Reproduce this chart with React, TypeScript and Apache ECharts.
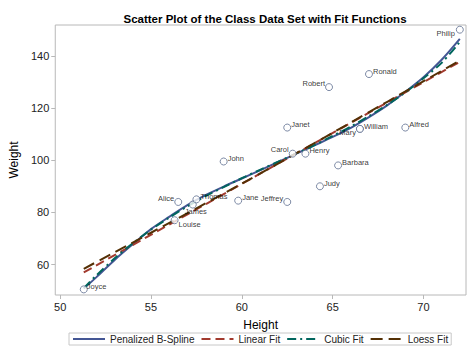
import React, { useEffect, useRef } from "react";
import * as echarts from "echarts";

const names = ["Alfred","Alice","Barbara","Carol","Henry","James","Jane","Janet","Jeffrey","John","Joyce","Judy","Louise","Mary","Philip","Robert","Ronald","Thomas","William"];
const heights = [69.0,56.5,65.3,62.8,63.5,57.3,59.8,62.5,62.5,59.0,51.3,64.3,56.3,66.5,72.0,64.8,67.0,57.5,66.5];
const weights = [112.5,84.0,98.0,102.5,102.5,83.0,84.5,112.5,84.0,99.5,50.5,90.0,77.0,112.0,150.0,128.0,133.0,85.0,112.0];

const fitX = [51.3,52,53,54,55,56,57,58,59,60,61,62,63,64,65,66,67,68,69,70,71,72];
const splineY = [50.8,55.2,61.8,67.8,73.6,78.3,82.8,86.6,89.9,93.0,96.1,99.3,102.5,105.7,108.9,112.4,116.5,121.0,126.2,131.8,138.5,146.5];
const cubicY = [51.0,55.9,62.4,68.2,73.4,78.0,82.3,86.2,89.7,93.1,96.3,99.4,102.6,105.8,109.3,112.9,116.9,121.2,126.0,131.4,137.3,145.3];
const linearX = [51.3,72];
const linearY = [57.0,137.7];
const loessX = [51.3,55,60,65,72];
const loessY = [58.4,72.2,91.0,110.5,138.2];

const xTicks = [50,55,60,65,70];
const yTicks = [60,80,100,120,140];
const legendNames = ["Penalized B-Spline", "Linear Fit", "Cubic Fit", "Loess Fit"];

const labelPlace: Record<string, any> = {
  Philip: { position: "left", offset: [1, 4] },
  Ronald: { position: "right", offset: [-2, -3] },
  Robert: { position: "left", offset: [2, -4] },
  Janet: { position: "right", offset: [-2, -3] },
  Carol: { position: "left", offset: [2, -4] },
  Henry: { position: "right", offset: [-2, -3] },
  Mary: { position: "left", offset: [2, 4] },
  William: { position: "right", offset: [-2, -2] },
  Alfred: { position: "right", offset: [-2, -3] },
  Barbara: { position: "right", offset: [-2, -3] },
  Judy: { position: "right", offset: [-2, -3] },
  Jeffrey: { position: "left", offset: [2, -3] },
  Jane: { position: "right", offset: [-2, -3] },
  John: { position: "right", offset: [-2, -3] },
  Alice: { position: "left", offset: [2, -3] },
  Thomas: { position: "right", offset: [-2, -3] },
  James: { position: "bottom", offset: [3, -3] },
  Louise: { position: "right", offset: [-2, 4] },
  Joyce: { position: "right", offset: [-3, -3] },
};

const FONT = "'Liberation Sans', Arial, Helvetica, sans-serif";

export default function App() {
  const ref = useRef<HTMLDivElement>(null);
  useEffect(() => {
    if (!ref.current) return;
    const chart = echarts.init(ref.current, null, { renderer: "svg" });
    const pts = names.map((n, i) => ({
      value: [heights[i], weights[i]],
      name: n,
      label: { show: true, formatter: n, ...labelPlace[n] },
    }));
    const zip = (xs: number[], ys: number[]) => xs.map((x, i) => [x, ys[i]]);
    chart.setOption({
      animation: false,
      textStyle: { fontFamily: FONT },
      title: {
        text: "Scatter Plot of the Class Data Set with Fit Functions",
        left: 260,
        textAlign: "center",
        top: 8,
        textStyle: { fontSize: 11.5, fontWeight: "bold", color: "#000", fontFamily: FONT },
      },
      grid: {
        left: 54, top: 25, right: 8, bottom: 60,
        show: true, borderColor: "#b8b8b8", borderWidth: 1,
      },
      legend: {
        data: legendNames,
        left: 69,
        top: 333,
        borderColor: "#c8c8c8",
        borderWidth: 1,
        borderRadius: 0,
        padding: [1, 3],
        itemGap: 6,
        itemWidth: 32,
        itemHeight: 12,
        itemStyle: { opacity: 0 },
        textStyle: { fontSize: 10, color: "#222", fontFamily: FONT },
      },
      xAxis: {
        type: "value",
        min: 49.73,
        max: 72.34,
        name: "Height",
        nameLocation: "middle",
        nameGap: 24,
        nameTextStyle: { fontSize: 12, color: "#000", fontFamily: FONT },
        splitLine: { show: false },
        axisLine: { show: false },
        axisTick: { show: true, length: 4, lineStyle: { color: "#b8b8b8" }, customValues: xTicks },
        axisLabel: { fontSize: 11, color: "#222", margin: 6, customValues: xTicks, fontFamily: FONT },
      },
      yAxis: {
        type: "value",
        min: 48.35,
        max: 151.8,
        name: "Weight",
        nameLocation: "middle",
        nameGap: 33,
        nameTextStyle: { fontSize: 12, color: "#000", fontFamily: FONT },
        splitLine: { show: false },
        axisLine: { show: false },
        axisTick: { show: true, length: 4, lineStyle: { color: "#b8b8b8" }, customValues: yTicks },
        axisLabel: { fontSize: 11, color: "#222", margin: 6, customValues: yTicks, fontFamily: FONT },
      },
      series: [
        {
          name: "Data",
          type: "scatter",
          symbol: "circle",
          symbolSize: 7,
          itemStyle: { color: "#fff", borderColor: "#5d6d8e", borderWidth: 1 },
          label: { fontSize: 7.5, color: "#000", fontFamily: FONT, distance: 2 },
          data: pts,
          z: 5,
        },
        {
          name: "Penalized B-Spline",
          type: "line",
          data: zip(fitX, splineY),
          smooth: 0.3,
          showSymbol: false,
          symbol: "none",
          lineStyle: { color: "#445694", width: 2, type: "solid" },
          itemStyle: { color: "#445694" },
        },
        {
          name: "Linear Fit",
          type: "line",
          data: zip(linearX, linearY),
          showSymbol: false,
          symbol: "none",
          lineStyle: { color: "#A23A2E", width: 2, type: [9, 5] },
          itemStyle: { color: "#A23A2E" },
        },
        {
          name: "Cubic Fit",
          type: "line",
          data: zip(fitX, cubicY),
          smooth: 0.3,
          showSymbol: false,
          symbol: "none",
          lineStyle: { color: "#01665E", width: 2, type: [9, 4, 2, 4] },
          itemStyle: { color: "#01665E" },
        },
        {
          name: "Loess Fit",
          type: "line",
          data: zip(loessX, loessY),
          smooth: 0.3,
          showSymbol: false,
          symbol: "none",
          lineStyle: { color: "#543005", width: 2, type: [12, 6] },
          itemStyle: { color: "#543005" },
        },
      ],
    });
    return () => chart.dispose();
  }, []);
  return (
    <div
      ref={ref}
      style={{ position: "fixed", left: 0, top: 0, width: 474, height: 355, background: "#fff" }}
    />
  );
}
